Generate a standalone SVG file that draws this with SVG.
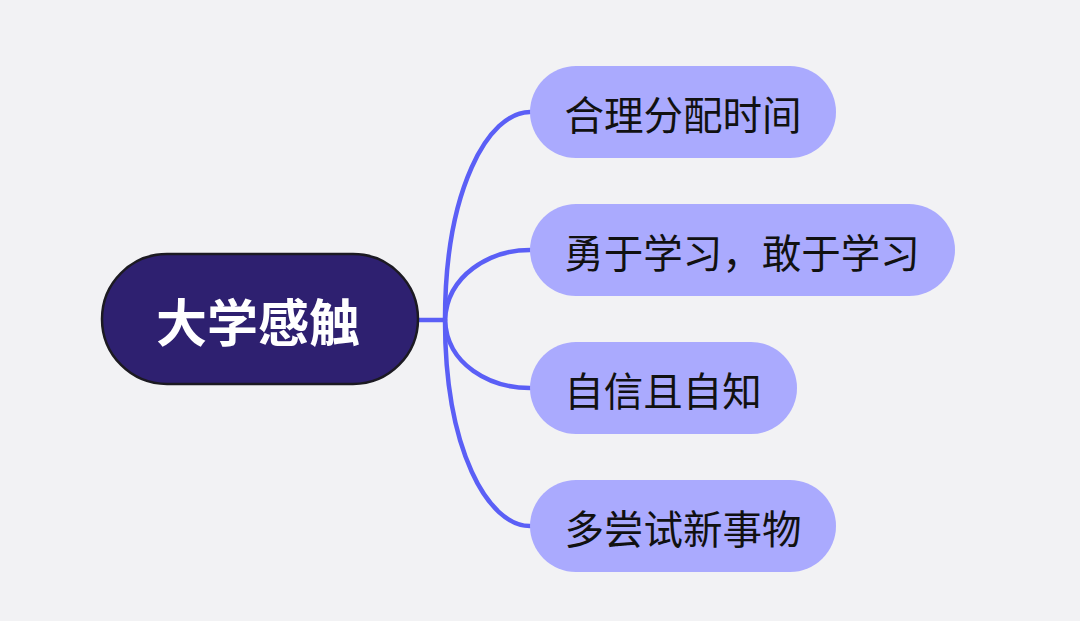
<svg xmlns="http://www.w3.org/2000/svg" width="1080" height="621" viewBox="0 0 1080 621">
<style>
.conn{fill:none;stroke:#5b5ff6;stroke-width:4.5;stroke-linecap:round}
.child rect{fill:#aaaafe}
.child text{font-family:"Noto Sans CJK SC",sans-serif;font-size:39.5px;fill:#111}
</style>
<rect width="1080" height="621" fill="#f2f2f4"/>
<g id="connectors">
<path class="conn" d="M418 320 L445 320"/>
<path class="conn" d="M445 320 C445 190 488 112 530 112"/>
<path class="conn" d="M445 320 C447 275 490 250 530 250"/>
<path class="conn" d="M445 320 C447 365 490 388 530 388"/>
<path class="conn" d="M445 320 C445 450 488 526 530 526"/>
</g>
<g id="root">
<rect x="102" y="254" width="316" height="130" rx="65" fill="#2e2070" stroke="#1c1a22" stroke-width="2.5"/>
<text x="258" y="320" text-anchor="middle" dominant-baseline="central" font-family="Noto Sans CJK SC,sans-serif" font-weight="bold" font-size="51" fill="#fff">大学感触</text>
</g>
<g id="n1" class="child">
<rect x="530" y="66" width="306" height="92" rx="46"/>
<text x="683" y="112" text-anchor="middle" dominant-baseline="central">合理分配时间</text>
</g>
<g id="n2" class="child">
<rect x="530" y="204" width="425" height="92" rx="46"/>
<text x="742" y="250" text-anchor="middle" dominant-baseline="central">勇于学习，敢于学习</text>
</g>
<g id="n3" class="child">
<rect x="530" y="342" width="267" height="92" rx="46"/>
<text x="663" y="388" text-anchor="middle" dominant-baseline="central">自信且自知</text>
</g>
<g id="n4" class="child">
<rect x="530" y="480" width="306" height="92" rx="46"/>
<text x="683" y="526" text-anchor="middle" dominant-baseline="central">多尝试新事物</text>
</g>
</svg>
